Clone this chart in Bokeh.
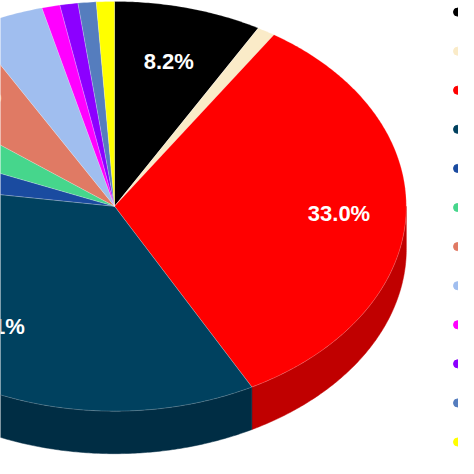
import numpy as np
from bokeh.plotting import figure
from bokeh.models import ColumnDataSource, Range1d
from bokeh.core.properties import value
from bokeh.embed import file_html
from bokeh.resources import INLINE

# ---- data ----
categories = ["Category 1", "Category 2", "Category 3", "Category 4", "Category 5", "Category 6",
              "Category 7", "Category 8", "Category 9", "Category 10", "Category 11", "Category 12"]
values = [8.2, 1.0, 33.0, 35.1, 3.9, 4.2, 6.4, 4.2, 1.0, 1.0, 1.0, 1.0]
colors = ["#000000", "#FAEBC8", "#FF0000", "#00415F", "#1A4BA0", "#46D68C",
          "#E07A64", "#A0BEEF", "#FF00FF", "#8C00FF", "#557DBE", "#FFFF00"]
side_colors = ["#000000", "#BBAF96", "#C00000", "#002D44", "#133878", "#34A069",
               "#A85B4B", "#7890B3", "#BF00BF", "#6900BF", "#405E8F", "#BFBF00"]

# ---- geometry (pixel layout, in reference-image pixels) ----
cx, cy = 118.0, 213.0
rx, ry = 302.0, 212.0
depth = 44.0
label_radius = {0: 0.73, 2: 0.77, 3: 0.72, 6: 0.72}   # layout: label distance per labelled slice

vals = np.array(values, dtype=float)
ends = np.cumsum(vals) / vals.sum() * 360.0
starts = np.concatenate([[0.0], ends[:-1]])

def pt(theta_deg, dy=0.0):
    t = np.radians(theta_deg)
    return cx + rx * np.sin(t), cy - ry * np.cos(t) + dy

top_xs, top_ys = [], []
side_xs, side_ys, side_fill = [], [], []
for a0, a1, sc in zip(starts, ends, side_colors):
    th = np.linspace(a0, a1, max(4, int((a1 - a0) * 2)))
    x, y = pt(th)
    top_xs.append([cx] + list(x))
    top_ys.append([cy] + list(y))
    t0, t1 = max(a0, 90.0), min(a1, 270.0)
    if t1 > t0:
        ts = np.linspace(t0, t1, max(4, int((t1 - t0) * 2)))
        sx, sy = pt(ts)
        bx, by = pt(ts[::-1], depth)
        side_xs.append(list(sx) + list(bx))
        side_ys.append(list(sy) + list(by))
        side_fill.append(sc)

p = figure(width=458, height=458, x_range=Range1d(0, 474), y_range=Range1d(474, 0),
           output_backend="svg", toolbar_location=None, min_border=0,
           x_axis_location=None, y_axis_location=None, outline_line_color=None,
           background_fill_color="white", border_fill_color="white")
p.grid.visible = False

p.patches(side_xs, side_ys, fill_color=side_fill, line_color=side_fill, line_width=0.5)
p.patches(top_xs, top_ys, fill_color=colors, line_color="white", line_alpha=0.35, line_width=0.6)

# percentage labels on the larger slices
mids = (starts + ends) / 2.0
lx, ly, lt = [], [], []
for i, (m, v) in enumerate(zip(mids, values)):
    if v >= 5:
        r = label_radius.get(i, 0.75)
        t = np.radians(m)
        lx.append(cx + rx * r * np.sin(t))
        ly.append(cy - ry * r * np.cos(t))
        lt.append(f"{v:.1f}%")
p.text(x=lx, y=ly, text=lt, text_align="center", text_baseline="middle",
       text_color="white", text_font=value("Liberation Sans"), text_font_style="bold",
       text_font_size="22px")

# legend markers (legend text is outside the visible area)
leg_y = [12 + i * 40.45 for i in range(len(categories))]
p.scatter(x=[473] * len(categories), y=leg_y, size=8, fill_color=colors, line_color=colors)

open("out.html", "w").write(file_html(p, INLINE))
